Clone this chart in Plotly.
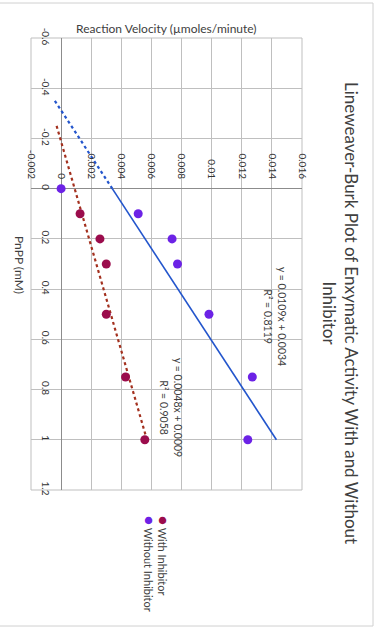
import plotly.graph_objects as go

# ---- data ----
with_inhibitor_x = [0.1, 0.2, 0.3, 0.5, 0.75, 1.0]
with_inhibitor_v = [0.00126, 0.00258, 0.0030, 0.0030, 0.00428, 0.00556]
without_inhibitor_x = [0.0, 0.1, 0.2, 0.3, 0.5, 0.75, 1.0]
without_inhibitor_v = [0.0, 0.00512, 0.00737, 0.00773, 0.00982, 0.0127, 0.0124]

with_slope, with_int, with_r2 = 0.0048, 0.0009, 0.9058
without_slope, without_int, without_r2 = 0.0109, 0.0034, 0.8119
with_back = -0.25
without_back = -0.35

vel_ticks = [-0.002, 0, 0.002, 0.004, 0.006, 0.008, 0.01, 0.012, 0.014, 0.016]
vel_labels = ["-0.002", "0", "0.002", "0.004", "0.006", "0.008", "0.01", "0.012", "0.014", "0.016"]
pnpp_ticks = [-0.6, -0.4, -0.2, 0, 0.2, 0.4, 0.6, 0.8, 1.0, 1.2]
pnpp_labels = ["-0.6", "-0.4", "-0.2", "0", "0.2", "0.4", "0.6", "0.8", "1", "1.2"]

C_WITH = "#9B0C4C"
C_WITHOUT = "#6C22E6"
C_WITH_LINE = "#A3301E"
C_WITHOUT_LINE = "#2355CC"
FONT = "Lato"
TXT = "#404040"

def line(slope, inter, xs):
    return [slope * x + inter for x in xs]

fig = go.Figure()

# trendlines (screen x = velocity, screen y = PnPP)
wx = [with_back, 1.0]
fig.add_trace(go.Scatter(x=line(with_slope, with_int, wx), y=wx, mode="lines",
                         line=dict(color=C_WITH_LINE, width=2.2, dash="dot"),
                         showlegend=False, hoverinfo="skip"))
bx = [without_back, 0.0]
fig.add_trace(go.Scatter(x=line(without_slope, without_int, bx), y=bx, mode="lines",
                         line=dict(color=C_WITHOUT_LINE, width=2.2, dash="dot"),
                         showlegend=False, hoverinfo="skip"))
sx = [0.0, 1.0]
fig.add_trace(go.Scatter(x=line(without_slope, without_int, sx), y=sx, mode="lines",
                         line=dict(color=C_WITHOUT_LINE, width=1.6),
                         showlegend=False, hoverinfo="skip"))

fig.add_trace(go.Scatter(x=with_inhibitor_v, y=with_inhibitor_x, mode="markers",
                         marker=dict(color=C_WITH, size=9), name="With Inhibitor",
                         showlegend=False))
fig.add_trace(go.Scatter(x=without_inhibitor_v, y=without_inhibitor_x, mode="markers",
                         marker=dict(color=C_WITHOUT, size=9), name="Without Inhibitor",
                         showlegend=False))

L, R, T, B = 31, 75, 38, 143
W, H = 377, 633
pw, ph = W - L - R, H - T - B

def px(x):
    return (x - L) / pw

def py(y):
    return (H - B - y) / ph

GRID = "#BFBFBF"
fig.update_layout(
    width=W, height=H, margin=dict(l=L, r=R, t=T, b=B),
    paper_bgcolor="white", plot_bgcolor="white",
    font=dict(family=FONT, color=TXT),
    xaxis=dict(range=[-0.002, 0.016], tickvals=vel_ticks, ticktext=vel_labels,
               tickangle=90, side="top", anchor="free", position=py(188.5),
               showgrid=True, gridcolor=GRID, gridwidth=1,
               zeroline=True, zerolinecolor="#8C8C8C", zerolinewidth=1,
               showline=False, ticks="", ticklabelstandoff=8,
               tickfont=dict(size=10, color="#333333", family=FONT)),
    yaxis=dict(range=[1.2, -0.6], tickvals=pnpp_ticks, ticktext=pnpp_labels,
               tickangle=90, side="left", anchor="free", position=px(60),
               showgrid=True, gridcolor=GRID, gridwidth=1,
               zeroline=True, zerolinecolor="#8C8C8C", zerolinewidth=1,
               showline=False, ticks="", ticklabelstandoff=8,
               tickfont=dict(size=10, color="#333333", family=FONT)),
    showlegend=False,
)

fig.add_shape(type="rect", xref="paper", yref="paper", x0=0, x1=1, y0=0, y1=1,
              line=dict(color=GRID, width=1), layer="below")
fig.add_shape(type="rect", xref="paper", yref="paper", x0=px(-1), x1=px(373),
              y0=py(626), y1=py(3), line=dict(color="#D0D0D0", width=1), layer="below")

def note(text, x, y, size, angle=0, **kw):
    d = dict(text=text, x=px(x), y=py(y), xref="paper", yref="paper",
             textangle=angle, showarrow=False, xanchor="center", yanchor="middle",
             font=dict(size=size, color=TXT, family=FONT))
    d.update(kw)
    return d

ann = [
    note("Lineweaver-Burk Plot of Enxymatic Activity With and Without<br>Inhibitor",
         341, 313, 17, 90),
    note("Reaction Velocity (µmoles/minute)", 166, 29, 12),
    note("PnPP (mM)", 20, 265, 12, 90),
    note(f"y = {without_slope}x + {without_int}<br>R² = {without_r2}", 275, 316, 10.5, 90),
    note(f"y = {with_slope}x + {with_int}<br>R² = {with_r2}", 171, 407, 10.5, 90),
    note(f"<span style='color:{C_WITH};font-size:15px'>●</span> With Inhibitor<br>"
         f"<span style='color:{C_WITHOUT};font-size:15px'>●</span> Without Inhibitor",
         157, 514, 11, 90, yanchor="top", align="left"),
]
fig.update_layout(annotations=ann)

fig.write_html("out.html", config={"displayModeBar": False},
               post_script="document.body.style.margin='0';")
